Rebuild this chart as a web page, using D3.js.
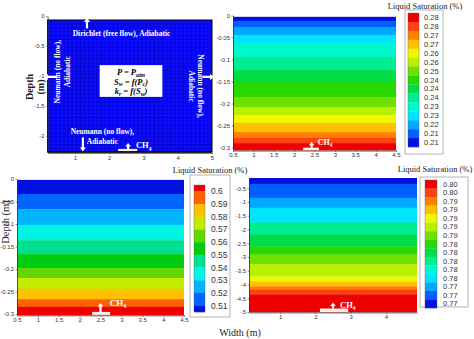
<!DOCTYPE html>
<html><head><meta charset="utf-8">
<script src="https://cdn.jsdelivr.net/npm/d3@7/dist/d3.min.js"></script>
<style>
html,body{margin:0;padding:0;background:#fff;}
svg{display:block;}
</style></head><body>
<svg id="chart" width="474" height="339"></svg>
<script>
// ---------------- data ----------------
const p1XTicks = [1, 2, 3, 4, 5];
const p1YTicks = [0, -0.5, -1, -1.5, -2];

const p2XTicks = [0.5, 1, 1.5, 2, 2.5, 3, 3.5, 4, 4.5];
const p2YTicks = [0, -0.05, -0.1, -0.15, -0.2, -0.25, -0.3];
const p2Labels = ["0.28","0.28","0.27","0.27","0.26","0.26","0.25","0.24","0.24","0.24","0.23","0.23","0.22","0.21","0.21"];
const p2Bounds = [-0.003,-0.012,-0.026,-0.044,-0.062,-0.094,-0.124,-0.151,-0.185,-0.208,-0.226,-0.244,-0.265,-0.278,-0.290,-0.306];
const p2Levels = [0,1,2,3,4,5,6,7,8,9,10,11,12,13,14];

const p3XTicks = [0.5, 1, 1.5, 2, 2.5, 3, 3.5, 4, 4.5];
const p3YTicks = [0, -0.05, -0.1, -0.15, -0.2, -0.25, -0.3];
const p3Labels = ["0.6","0.59","0.58","0.57","0.56","0.55","0.54","0.53","0.52","0.51"];
const p3Bounds = [-0.002,-0.033,-0.067,-0.102,-0.136,-0.167,-0.198,-0.220,-0.244,-0.267,-0.284,-0.302];
const p3Levels = [0,1,2,3,4,5,6,7,8,9,10];

const p4XTicks = [1, 2, 3, 4];
const p4YTicks = [-0.5,-1,-1.5,-2,-2.5,-3,-3.5,-4,-4.5,-5];
const p4Labels = ["0.80","0.80","0.79","0.79","0.79","0.79","0.79","0.78","0.78","0.78","0.78","0.78","0.77","0.77","0.77"];
const p4Bounds = [-0.13,-0.345,-0.85,-1.21,-1.75,-2.19,-2.62,-2.91,-3.27,-3.71,-3.89,-4.07,-4.18,-4.36,-5.0];
const p4Levels = [0,1,2,3,5,6,7,8,9,10,11,12,13,14];

// palettes (index 0 = lowest saturation)
const palette15 = ["#0010e0","#0060ff","#00a8ff","#00e4ff","#00f8d0","#00ec90","#00dc48","#28d800","#70e000","#b8f000","#f0f800","#ffc000","#ff8000","#ff4010","#ee0000"];
const palette11 = ["#0010e0","#0064ff","#00b4ff","#00f4e4","#00e090","#00cc10","#60d800","#c4ec00","#ffc000","#ff6000","#f00000"];

// ---------------- helpers ----------------
const SANS = "'Liberation Sans', Arial, sans-serif";
const SERIF = "'Liberation Serif', 'Times New Roman', serif";
const svg = d3.select("#chart");
const fmt = d => String(d);

function axes(g, x, y, xTicks, yTicks, xY, yX) {
  const ax = g.append("g").attr("transform", `translate(0,${xY})`)
    .call(d3.axisBottom(x).tickValues(xTicks).tickSize(1.5).tickSizeOuter(0).tickPadding(1).tickFormat(fmt));
  const ay = g.append("g").attr("transform", `translate(${yX},0)`)
    .call(d3.axisLeft(y).tickValues(yTicks).tickSize(1.5).tickSizeOuter(0).tickPadding(1.5).tickFormat(fmt));
  [ax, ay].forEach(a => {
    a.selectAll("text").attr("font-family", SANS).attr("font-size", 6).attr("fill", "#333");
    a.selectAll("line").attr("stroke", "#444").attr("stroke-width", 0.6);
    a.select(".domain").attr("stroke", "#333").attr("stroke-width", 0.8);
  });
}

function bands(g, x, y, bounds, levels, colors) {
  const [x0, x1] = x.domain();
  g.selectAll(null).data(levels).join("rect")
    .attr("x", x(x0)).attr("width", x(x1) - x(x0))
    .attr("y", (d, i) => y(bounds[i]))
    .attr("height", (d, i) => y(bounds[i + 1]) - y(bounds[i]) + 0.3)
    .attr("fill", d => colors[d]);
}

function blockArrow(x0, y0, x1, y1, shaft, headW, headL) {
  const dx = x1 - x0, dy = y1 - y0, L = Math.hypot(dx, dy), ux = dx / L, uy = dy / L, px = -uy, py = ux;
  const bx = x1 - ux * headL, by = y1 - uy * headL;
  const pts = [[x0 + px*shaft, y0 + py*shaft],[bx + px*shaft, by + py*shaft],[bx + px*headW, by + py*headW],[x1, y1],
               [bx - px*headW, by - py*headW],[bx - px*shaft, by - py*shaft],[x0 - px*shaft, y0 - py*shaft]];
  return "M" + pts.map(p => p.map(v => v.toFixed(2)).join(",")).join("L") + "Z";
}

function source(g, x, y, src, fs) {
  const yb = y(src.depth);
  g.append("rect").attr("x", x(src.x0)).attr("width", x(src.x1) - x(src.x0))
    .attr("y", yb - src.h).attr("height", src.h).attr("fill", "#f4f0ec");
  g.append("path").attr("d", blockArrow(x(src.ax), yb - src.h, x(src.ax), yb - src.h - src.len, 1.1, 2.8, 3.5)).attr("fill", "#fff");
  const t = g.append("text").attr("x", x(src.tx)).attr("y", yb - src.h - src.tdy)
    .attr("font-family", SERIF).attr("font-weight", "bold").attr("font-size", fs).attr("fill", "#fff");
  t.append("tspan").text("CH");
  t.append("tspan").attr("font-size", fs * 0.65).attr("dy", fs * 0.25).text("4");
}

function legend(cfg) {
  const g = svg.append("g");
  g.append("rect").attr("x", cfg.bx).attr("y", cfg.by).attr("width", cfg.bw).attr("height", cfg.bh)
    .attr("fill", "#fff").attr("stroke", "#a0a0a0").attr("stroke-width", 0.8);
  const n = cfg.labels.length;
  const step = cfg.sh / n;
  const cols = cfg.colors.slice().reverse(); // top = highest
  if (cols.length === n) {
    g.selectAll(null).data(cols).join("rect")
      .attr("x", cfg.sx).attr("width", cfg.sw)
      .attr("y", (d, i) => cfg.sy + i * step).attr("height", step + 0.2)
      .attr("fill", d => d);
  } else {
    // labels sit on colour boundaries; end swatches are half height
    g.selectAll(null).data(cols).join("rect")
      .attr("x", cfg.sx).attr("width", cfg.sw)
      .attr("y", (d, i) => i === 0 ? cfg.sy : cfg.sy + (i - 0.5) * step)
      .attr("height", (d, i) => (i === 0 || i === cols.length - 1) ? step / 2 + 0.2 : step + 0.2)
      .attr("fill", d => d);
  }
  g.append("rect").attr("x", cfg.sx).attr("y", cfg.sy).attr("width", cfg.sw).attr("height", cfg.sh)
    .attr("fill", "none").attr("stroke", "#666").attr("stroke-width", 0.4);
  g.selectAll(null).data(cfg.labels).join("text")
    .attr("x", cfg.lx).attr("y", (d, i) => cfg.sy + (i + 0.5) * step)
    .attr("dominant-baseline", "central")
    .attr("font-family", SANS).attr("font-size", cfg.fs).attr("fill", "#333")
    .text(d => d);
  svg.append("text").attr("x", cfg.tx).attr("y", cfg.ty).attr("text-anchor", "middle")
    .attr("font-family", SERIF).attr("font-size", 8.5).attr("fill", "#222")
    .text("Liquid Saturation (%)");
}

// ---------------- panel 1 : domain & boundary conditions ----------------
{
  const x = d3.scaleLinear().domain([0.2, 5]).range([47.6, 212]);
  const y = d3.scaleLinear().domain([0, -2.27]).range([16, 152]);
  const g = svg.append("g");
  const top = -0.067, bot = -2.27;
  g.append("rect").attr("x", x(0.2)).attr("y", y(top)).attr("width", x(5) - x(0.2)).attr("height", y(bot) - y(top))
    .attr("fill", "#0c0cff");
  const gx = d3.range(0.32, 4.95, 0.12), gy = d3.range(top - 0.065, bot + 0.02, -0.065);
  g.selectAll(null).data(gx).join("line").attr("x1", d => x(d)).attr("x2", d => x(d))
    .attr("y1", y(top)).attr("y2", y(bot)).attr("stroke", "#0000a0").attr("stroke-width", 0.4);
  g.selectAll(null).data(gy).join("line").attr("y1", d => y(d)).attr("y2", d => y(d))
    .attr("x1", x(0.2)).attr("x2", x(5)).attr("stroke", "#0000a0").attr("stroke-width", 0.4);
  g.append("rect").attr("x", x(0.2)).attr("y", y(top)).attr("width", x(5) - x(0.2)).attr("height", y(bot) - y(top))
    .attr("fill", "none").attr("stroke", "#000").attr("stroke-width", 1);
  g.append("line").attr("x1", x(0.2)).attr("x2", x(5)).attr("y1", y(bot)).attr("y2", y(bot)).attr("stroke", "#000").attr("stroke-width", 1.6);
  axes(g, x, y, p1XTicks, p1YTicks, y(bot) + 0.8, x(0.2));

  const wtext = (tx, ty, s, rot) => {
    const t = g.append("text").attr("font-family", SERIF).attr("font-weight", "bold").attr("font-size", 7.5)
      .attr("fill", "#fff").attr("text-anchor", "middle").attr("dominant-baseline", "central").text(s);
    if (rot) t.attr("transform", `translate(${x(tx)},${y(ty)}) rotate(${rot})`);
    else t.attr("x", x(tx)).attr("y", y(ty));
  };
  wtext(2.36, -0.29, "Dirichlet (free flow), Adiabatic");
  wtext(0.50, -0.93, "Neumann (no flow),", -90);
  wtext(0.77, -0.93, "Adiabatic", -90);
  wtext(4.66, -1.17, "Neumann (no flow),", 90);
  wtext(4.41, -1.17, "Adiabatic", 90);
  wtext(1.80, -1.93, "Neumann (no flow),");
  wtext(1.80, -2.09, "Adiabatic");

  const arrows = [
    [[1.35, -0.21], [1.35, -0.035]],
    [[0.47, -1.017], [0.09, -1.017]],
    [[4.72, -1.017], [5.06, -1.017]],
    [[1.23, -2.03], [1.23, -2.26]]
  ];
  g.selectAll(null).data(arrows).join("path")
    .attr("d", d => blockArrow(x(d[0][0]), y(d[0][1]), x(d[1][0]), y(d[1][1]), 1.1, 3, 4))
    .attr("fill", "#fff");

  // equation box
  g.append("rect").attr("x", x(1.72)).attr("y", y(-0.82)).attr("width", x(3.55) - x(1.72)).attr("height", y(-1.35) - y(-0.82))
    .attr("fill", "#fff");
  const eq = (ty, parts) => {
    const t = g.append("text").attr("x", x(2.635)).attr("y", y(ty)).attr("text-anchor", "middle")
      .attr("font-family", SERIF).attr("font-weight", "bold").attr("font-style", "italic").attr("font-size", 8.5).attr("fill", "#000");
    parts.forEach(p => {
      const s = t.append("tspan").text(p[0]);
      if (p[1] === "sub") s.attr("font-size", 5.8).attr("dy", 1.8);
      if (p[1] === "up") s.attr("dy", -1.8);
    });
  };
  eq(-0.98, [["P = P"], ["atm", "sub"]]);
  eq(-1.145, [["S"], ["w", "sub"], [" = f(P", "up"], ["c", "sub"], [")", "up"]]);
  eq(-1.30, [["k"], ["r", "sub"], [" = f(S", "up"], ["w", "sub"], [")", "up"]]);

  source(g, x, y, { x0: 2.26, x1: 2.82, depth: -2.255, h: 2.2, ax: 2.55, len: 6, tx: 2.78, tdy: 0.5 }, 8.5);

  // y label
  const yl = g.append("text").attr("transform", `translate(33,87) rotate(-90)`).attr("text-anchor", "middle")
    .attr("font-family", SERIF).attr("font-weight", "bold").attr("font-size", 10).attr("fill", "#222");
  yl.append("tspan").attr("x", 0).attr("dy", 0).text("Depth");
  yl.append("tspan").attr("x", 0).attr("dy", 11).text("(m)");
}

// ---------------- panel 2 ----------------
{
  const x = d3.scaleLinear().domain([0.5, 4.5]).range([233, 396]);
  const y = d3.scaleLinear().domain([0, -0.3]).range([15.5, 147.5]);
  const g = svg.append("g");
  bands(g, x, y, p2Bounds, p2Levels, palette15);
  axes(g, x, y, p2XTicks, p2YTicks, y(-0.306) + 0.4, 233);
  source(g, x, y, { x0: 2.22, x1: 2.61, depth: -0.306, h: 2.5, ax: 2.43, len: 6, tx: 2.58, tdy: 2.5 }, 8);
  legend({ bx: 405, by: 10, bw: 38, bh: 144, sx: 408, sy: 13, sw: 11, sh: 134, lx: 424, fs: 7.5,
           labels: p2Labels, colors: palette15, tx: 425, ty: 9 });
}

// ---------------- panel 3 ----------------
{
  const x = d3.scaleLinear().domain([0.5, 4.5]).range([17, 184]);
  const y = d3.scaleLinear().domain([0, -0.3]).range([179, 314]);
  const g = svg.append("g");
  bands(g, x, y, p3Bounds, p3Levels, palette11);
  axes(g, x, y, p3XTicks, p3YTicks, y(-0.302) + 0.4, 17);
  source(g, x, y, { x0: 2.3, x1: 2.73, depth: -0.302, h: 3, ax: 2.5, len: 9, tx: 2.72, tdy: 6 }, 9);
  legend({ bx: 190, by: 175, bw: 40, bh: 142, sx: 194, sy: 185, sw: 11, sh: 127, lx: 211, fs: 8.5,
           labels: p3Labels, colors: palette11, tx: 210, ty: 173 });
  svg.append("text").attr("transform", "translate(9,222) rotate(-90)").attr("text-anchor", "middle")
    .attr("font-family", SERIF).attr("font-size", 10.5).attr("fill", "#222").text("Depth (m)");
}

// ---------------- panel 4 ----------------
{
  const x = d3.scaleLinear().domain([0.12, 4.88]).range([249, 417]);
  const y = d3.scaleLinear().domain([-0.13, -5]).range([178, 312]);
  const g = svg.append("g");
  bands(g, x, y, p4Bounds, p4Levels, palette15);
  axes(g, x, y, p4XTicks, p4YTicks, y(-5) + 0.4, 249);
  source(g, x, y, { x0: 2.13, x1: 2.93, depth: -5, h: 3.5, ax: 2.5, len: 6, tx: 2.7, tdy: 1 }, 8.5);
  legend({ bx: 420, by: 177, bw: 48, bh: 130, sx: 425, sy: 180, sw: 12, sh: 128, lx: 443, fs: 7.5,
           labels: p4Labels, colors: palette15, tx: 435, ty: 172 });
  svg.append("text").attr("x", 240).attr("y", 336).attr("text-anchor", "middle")
    .attr("font-family", SERIF).attr("font-size", 10).attr("fill", "#222").text("Width (m)");
}
</script>
</body></html>
